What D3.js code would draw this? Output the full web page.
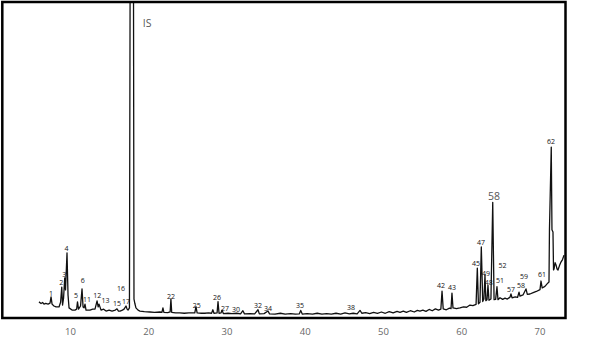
<!DOCTYPE html>
<html>
<head>
<meta charset="utf-8">
<script src="https://cdn.jsdelivr.net/npm/d3@7"></script>
<style>
  body { margin: 0; background: #fff; }
  svg { display: block; }
  .labels { opacity: 0.99; }
</style>
</head>
<body>
<svg id="svg" width="614" height="360"></svg>
<script>
// retention time (min) and abundance (% of frame height) of the trace
var traceRT = [6.04,6.3,6.5,6.68,6.9,7.2,7.45,7.58,7.71,7.95,8.22,8.6,8.8,8.95,9.05,9.18,9.33,9.43,9.62,9.75,9.88,
  10.26,10.64,10.85,10.96,11.09,11.35,11.54,11.67,11.8,11.92,12.05,12.56,12.9,13.2,13.46,13.6,13.71,13.97,14.3,14.61,
  15.0,15.37,15.8,16.01,16.2,16.4,16.7,16.91,17.16,17.3,17.42,17.6,17.93,18.18,18.3,18.43,18.7,18.94,19.5,20.22,20.8,
  21.5,21.75,21.88,22.0,22.5,22.8,22.9,23.0,23.5,24.05,24.6,25.2,25.95,26.1,26.25,26.8,27.23,27.7,28.1,28.26,28.4,28.8,
  28.92,29.05,29.3,29.43,29.6,30.2,30.71,31.3,31.8,32.1,32.3,33.0,33.6,34.03,34.2,34.8,35.31,35.5,36.2,36.9,37.5,38.2,
  38.8,39.3,39.49,39.7,40.3,41,41.6,42.2,42.8,43.4,44,44.6,45.15,45.7,46.2,46.7,47.07,47.3,47.8,48.3,48.8,49.3,49.8,
  50.3,50.8,51.3,51.8,52.18,52.6,53.0,53.5,54.0,54.4,54.73,55.1,55.5,55.9,56.3,56.7,57.1,57.4,57.55,57.7,58.1,58.5,
  58.7,58.82,58.95,59.4,59.84,60.3,60.7,61.12,61.5,61.9,62.06,62.2,62.4,62.57,62.75,62.9,63.04,63.15,63.3,63.42,63.55,
  63.8,64.03,64.2,64.4,64.57,64.7,64.96,65.3,65.6,65.9,66.24,66.36,66.5,66.9,67.2,67.39,67.51,67.9,68.28,68.45,68.79,
  69.2,69.6,70.07,70.2,70.35,70.7,71.09,71.22,71.28,71.51,71.6,71.73,71.8,71.86,72.0,72.12,72.25,72.37,72.55,72.75,
  72.95,73.14];
var traceAbund = [5.1,4.6,4.9,4.4,4.6,4.4,4.7,6.7,4.4,3.8,3.5,3.5,5.0,9.8,4.1,6.3,12.7,8.9,20.6,7.3,3.2,
  2.5,2.5,2.8,5.1,2.8,3.8,9.2,3.5,3.2,4.4,2.5,2.5,2.8,2.8,5.4,3.5,4.4,2.5,2.8,2.2,
  2.5,2.2,2.5,2.9,2.2,2.2,2.5,2.8,3.8,2.8,2.5,3.2,400,6,4.5,3.2,2.5,2.2,2.0,1.9,1.8,
  1.9,1.8,3.2,1.8,1.7,1.9,6.0,1.8,1.6,1.6,1.5,1.6,1.6,3.6,1.6,1.5,1.5,1.6,1.5,2.6,1.5,1.6,
  5.2,1.5,1.6,2.5,1.4,1.5,1.4,1.5,1.3,2.3,1.3,1.4,1.3,2.6,1.3,1.4,2.2,1.3,1.2,1.5,1.2,1.4,
  1.2,1.3,2.4,1.2,1.4,1.2,1.5,1.2,1.4,1.2,1.5,1.2,1.6,1.3,1.5,1.3,2.4,1.5,1.7,1.4,1.8,1.5,1.9,
  1.5,2.0,1.6,2.1,1.8,2.2,1.8,2.3,1.9,2.4,2.2,2.5,2.1,2.7,2.3,2.9,2.5,2.8,8.5,2.9,2.6,3.1,
  3.0,7.9,3.2,3.0,3.2,3.5,3.4,4.1,3.9,4.3,15.8,4.5,5.0,22.5,5.2,6.0,13.6,5.5,5.8,10.4,5.6,
  6.0,36.6,5.8,5.9,9.9,5.8,6.4,5.9,6.3,6.0,6.6,7.6,6.4,6.7,6.5,8.2,6.9,7.3,9.2,7.5,7.6,
  8.0,8.4,9.0,11.7,9.5,10.0,11.1,11.4,27.9,54.1,27.9,27.2,15.2,15.5,17.5,16.8,15.5,15.2,16.5,17.7,
  18.5,19.9];

// peak numbers and where they are written
var peakLabels = ["1","2","3","4","5","6","11","12","13","15","16","17","22","25","26","27","30","32","34","35","38",
  "42","43","45","47","49","48","51","52","57","58","59","61","62"];
var labelRT = [7.58,8.90,9.27,9.56,10.77,11.63,12.18,13.50,14.54,16.01,16.52,17.16,22.91,26.2,28.79,29.81,31.22,34.03,
  35.31,39.40,45.92,57.42,58.82,61.89,62.53,63.17,63.51,64.96,65.28,66.36,67.64,68.03,70.33,71.48];
var labelAbund = [6.96,10.44,12.97,21.2,6.33,11.08,5.06,6.33,4.75,3.8,8.54,4.43,6.01,3.16,5.7,2.22,1.9,3.16,
  2.22,3.16,2.53,9.49,8.86,16.46,23.1,13.29,10.44,11.08,15.82,8.23,9.49,12.34,12.97,55.06];

// the two large grey labels
var bigLabels = ["IS","58"];
var bigLabelRT = [19.86,64.19];
var bigLabelAbund = [92.09,37.34];

var tickValues = [10,20,30,40,50,60,70];

var svg = d3.select("#svg");

var x = d3.scaleLinear().domain([1.35, 73.33]).range([2.3, 565.5]);
var y = d3.scaleLinear().domain([0, 100]).range([318, 2]);

svg.append("defs").append("clipPath").attr("id", "plotclip")
  .append("rect")
  .attr("x", x(1.35)).attr("y", y(100))
  .attr("width", x(73.33) - x(1.35)).attr("height", y(0) - y(100));

//////// TRACE ////////
var line = d3.line()
  .x(function(d) { return x(traceRT[d]); })
  .y(function(d) { return y(traceAbund[d]); });

svg.append("path")
  .datum(d3.range(traceRT.length))
  .attr("clip-path", "url(#plotclip)")
  .attr("d", line)
  .attr("fill", "none")
  .attr("stroke", "#111")
  .attr("stroke-width", 1.3)
  .attr("stroke-linejoin", "round");

//////// FRAME ////////
svg.append("rect")
  .attr("x", x(1.35)).attr("y", y(100))
  .attr("width", x(73.33) - x(1.35)).attr("height", y(0) - y(100))
  .attr("fill", "none")
  .attr("stroke", "#000")
  .attr("stroke-width", 2.5);

//////// X AXIS ////////
var axis = svg.append("g")
  .attr("class", "labels")
  .attr("transform", "translate(0," + y(0) + ")")
  .call(d3.axisBottom(x).tickValues(tickValues).tickSize(0).tickPadding(10));
axis.select(".domain").remove();
axis.selectAll("text")
  .attr("font-family", "Open Sans")
  .attr("font-size", 9.5)
  .attr("fill", "#666");

//////// PEAK LABELS ////////
var labels = svg.append("g").attr("class", "labels");

labels.selectAll("text.peak").data(peakLabels).enter()
  .append("text")
  .attr("class", "peak")
  .attr("x", function(d, i) { return x(labelRT[i]); })
  .attr("y", function(d, i) { return y(labelAbund[i]); })
  .attr("text-anchor", "middle")
  .attr("font-family", "Open Sans")
  .attr("font-size", 7)
  .attr("fill", "#111")
  .text(function(d) { return d; });

labels.selectAll("text.big").data(bigLabels).enter()
  .append("text")
  .attr("class", "big")
  .attr("x", function(d, i) { return x(bigLabelRT[i]); })
  .attr("y", function(d, i) { return y(bigLabelAbund[i]); })
  .attr("text-anchor", "middle")
  .attr("font-family", "Open Sans")
  .attr("font-size", 10.5)
  .attr("fill", "#555")
  .text(function(d) { return d; });
</script>
</body>
</html>
